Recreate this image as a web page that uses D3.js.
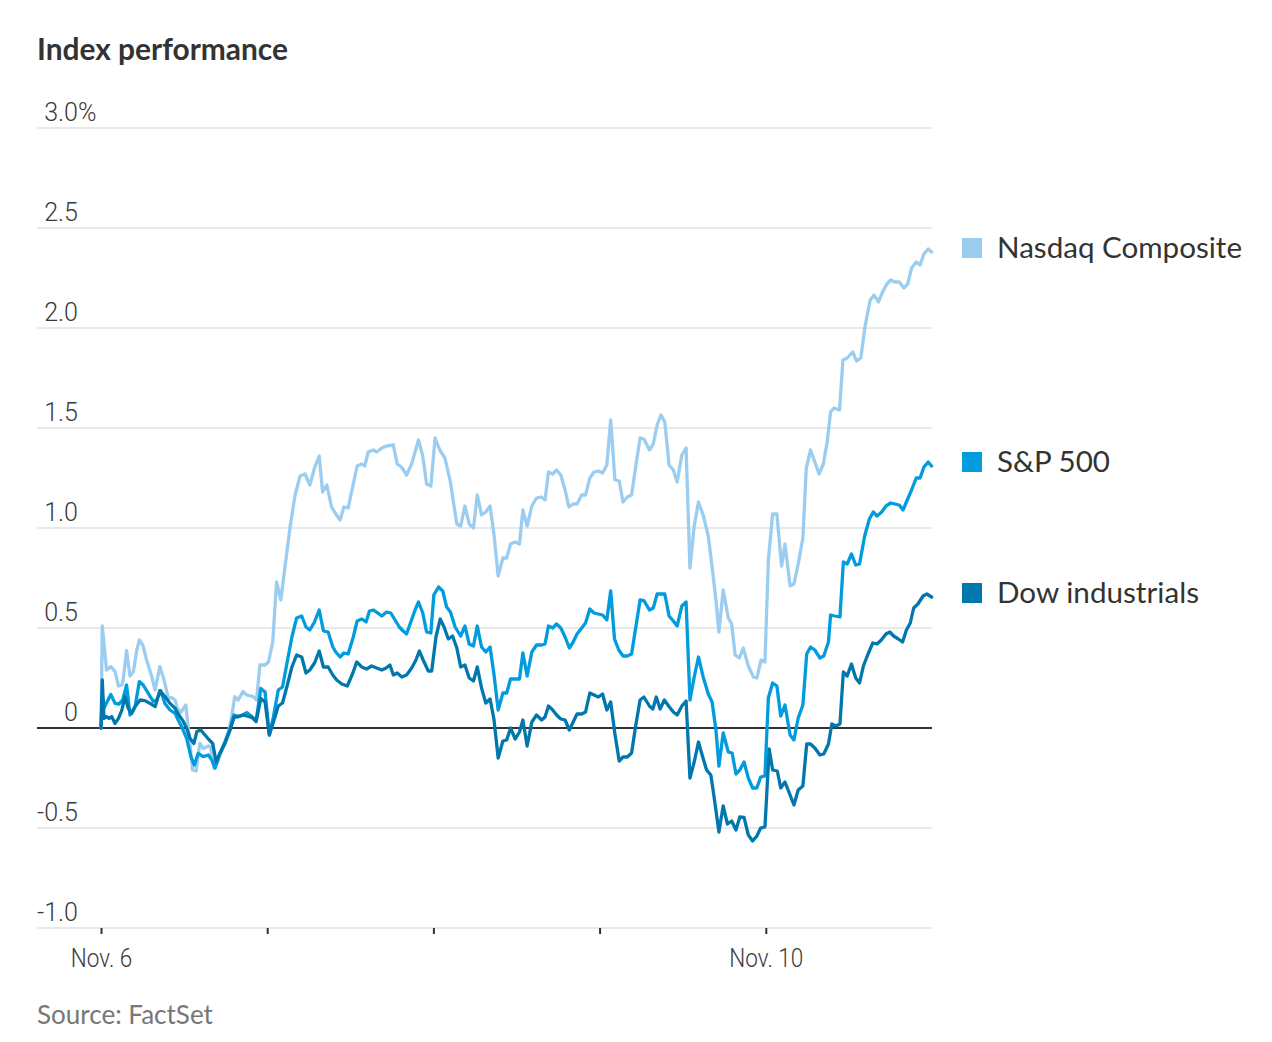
<!DOCTYPE html>
<html><head><meta charset="utf-8">
<script src="https://cdn.jsdelivr.net/npm/d3@7"></script>
<style>
html,body{margin:0;padding:0;background:#fff;}
svg{display:block;}
</style></head>
<body>
<svg id="chart" width="1272" height="1042"></svg>
<script>
// ---- Data (time = trading minutes since Nov. 6 open, 390 per session; value = % change) ----
const seriesNames = ["Nasdaq Composite", "S&P 500", "Dow industrials"];
const seriesColors = ["#9bcdf0", "#009cde", "#0077ad"];

const nasdaq = [[0,0],[3,0.51],[13,0.29],[23,0.307],[33,0.282],[41,0.21],[49,0.215],[52,0.24],[60,0.387],[68,0.26],[76,0.282],[84,0.39],[90,0.44],[98,0.415],[107,0.34],[119,0.257],[127,0.19],[138,0.307],[148,0.24],[158,0.148],[166,0.152],[174,0.14],[179,0.098],[187,0.077],[199,0.115],[215,-0.21],[223,-0.215],[232,-0.077],[240,-0.102],[252,-0.09],[257,-0.093],[265,-0.202],[275,-0.16],[287,-0.093],[299,-0.027],[307,0.065],[314,0.157],[322,0.14],[333,0.182],[342,0.165],[357,0.157],[365,0.14],[373,0.315],[385,0.315],[393,0.33],[403,0.43],[412,0.73],[422,0.64],[432,0.81],[444,1.01],[455,1.16],[467,1.26],[479,1.27],[490,1.215],[501,1.30],[512,1.36],[520,1.18],[530,1.215],[541,1.105],[551,1.07],[561,1.04],[570,1.105],[580,1.10],[591,1.21],[601,1.31],[612,1.32],[619,1.31],[627,1.38],[639,1.39],[647,1.38],[659,1.40],[670,1.41],[686,1.415],[695,1.32],[705,1.305],[717,1.265],[729,1.32],[745,1.44],[755,1.36],[764,1.22],[774,1.21],[784,1.45],[795,1.39],[807,1.35],[819,1.24],[827,1.13],[835,1.02],[844,1.01],[854,1.11],[864,1.02],[874,1.00],[883,1.165],[893,1.065],[903,1.08],[913,1.11],[922,0.97],[932,0.76],[943,0.85],[952,0.85],[961,0.92],[972,0.93],[982,0.92],[990,1.09],[1000,1.01],[1011,1.11],[1022,1.15],[1033,1.155],[1042,1.14],[1050,1.28],[1060,1.27],[1069,1.29],[1079,1.265],[1089,1.19],[1098,1.105],[1108,1.12],[1117,1.12],[1128,1.165],[1137,1.165],[1147,1.25],[1157,1.28],[1167,1.285],[1177,1.275],[1187,1.315],[1196,1.54],[1206,1.24],[1216,1.235],[1225,1.13],[1235,1.155],[1245,1.165],[1255,1.31],[1265,1.45],[1274,1.445],[1287,1.39],[1296,1.42],[1305,1.515],[1314,1.565],[1323,1.53],[1333,1.315],[1343,1.29],[1352,1.23],[1363,1.365],[1373,1.40],[1382,0.80],[1392,1.01],[1402,1.13],[1413,1.065],[1425,0.96],[1436,0.77],[1444,0.62],[1450,0.48],[1460,0.69],[1472,0.55],[1480,0.52],[1488,0.365],[1498,0.35],[1507,0.40],[1519,0.31],[1531,0.255],[1539,0.25],[1549,0.34],[1558,0.33],[1566,0.84],[1576,1.07],[1586,1.07],[1597,0.81],[1605,0.92],[1617,0.71],[1626,0.72],[1636,0.82],[1647,0.95],[1655,1.30],[1665,1.39],[1675,1.33],[1685,1.27],[1695,1.32],[1704,1.43],[1712,1.58],[1720,1.60],[1733,1.59],[1741,1.84],[1751,1.85],[1764,1.88],[1773,1.835],[1783,1.85],[1793,2.01],[1805,2.14],[1814,2.165],[1824,2.13],[1834,2.18],[1844,2.22],[1853,2.24],[1863,2.23],[1873,2.23],[1884,2.20],[1893,2.22],[1902,2.30],[1913,2.33],[1922,2.315],[1931,2.37],[1941,2.395],[1949,2.38]];

const sp500 = [[0,0],[3,0.16],[7,0.10],[23,0.168],[33,0.123],[42,0.12],[51,0.14],[60,0.215],[68,0.065],[80,0.107],[90,0.232],[99,0.215],[111,0.173],[123,0.132],[131,0.14],[140,0.187],[150,0.123],[162,0.09],[174,0.073],[181,0.04],[189,0.007],[201,-0.052],[211,-0.143],[219,-0.185],[228,-0.127],[240,-0.143],[252,-0.135],[260,-0.16],[268,-0.2],[279,-0.127],[291,-0.068],[303,-0.002],[312,0.065],[322,0.057],[333,0.065],[342,0.077],[354,0.057],[364,0.037],[375,0.198],[385,0.18],[395,-0.035],[404,0.05],[416,0.19],[426,0.205],[436,0.32],[448,0.455],[459,0.55],[471,0.56],[481,0.505],[490,0.49],[501,0.53],[512,0.59],[522,0.485],[533,0.48],[544,0.405],[551,0.38],[561,0.355],[570,0.375],[580,0.37],[592,0.455],[601,0.535],[612,0.545],[622,0.53],[630,0.585],[639,0.59],[648,0.577],[659,0.56],[670,0.58],[680,0.575],[690,0.54],[700,0.505],[709,0.485],[717,0.47],[727,0.53],[737,0.59],[745,0.63],[755,0.575],[764,0.48],[774,0.475],[781,0.665],[792,0.705],[802,0.685],[811,0.605],[820,0.58],[831,0.505],[844,0.46],[854,0.51],[864,0.42],[874,0.41],[883,0.51],[893,0.405],[903,0.38],[913,0.405],[922,0.27],[932,0.09],[943,0.175],[952,0.175],[961,0.245],[972,0.245],[982,0.245],[990,0.375],[1000,0.26],[1011,0.38],[1022,0.415],[1034,0.415],[1042,0.42],[1050,0.51],[1060,0.50],[1069,0.52],[1079,0.50],[1089,0.455],[1099,0.40],[1108,0.43],[1117,0.47],[1128,0.50],[1137,0.525],[1147,0.595],[1157,0.575],[1167,0.57],[1177,0.565],[1187,0.54],[1196,0.685],[1205,0.445],[1215,0.39],[1225,0.36],[1235,0.36],[1245,0.37],[1255,0.505],[1265,0.64],[1274,0.637],[1287,0.59],[1296,0.60],[1305,0.67],[1314,0.67],[1323,0.67],[1333,0.56],[1343,0.535],[1352,0.51],[1363,0.61],[1373,0.63],[1382,0.14],[1392,0.255],[1402,0.355],[1413,0.255],[1425,0.17],[1434,0.13],[1443,-0.01],[1450,-0.19],[1460,-0.025],[1472,-0.12],[1481,-0.125],[1490,-0.23],[1499,-0.21],[1509,-0.17],[1519,-0.25],[1529,-0.30],[1539,-0.30],[1548,-0.245],[1558,-0.24],[1566,0.15],[1576,0.225],[1586,0.21],[1595,0.06],[1605,0.115],[1617,-0.035],[1626,-0.06],[1636,0.05],[1647,0.115],[1656,0.37],[1665,0.405],[1675,0.39],[1687,0.35],[1696,0.36],[1707,0.43],[1712,0.565],[1722,0.56],[1734,0.555],[1742,0.83],[1751,0.82],[1761,0.87],[1771,0.815],[1780,0.82],[1792,0.96],[1803,1.045],[1812,1.08],[1821,1.06],[1832,1.08],[1842,1.11],[1853,1.125],[1863,1.12],[1873,1.115],[1882,1.09],[1892,1.14],[1902,1.19],[1913,1.25],[1922,1.25],[1931,1.305],[1941,1.33],[1949,1.31]];

const dow = [[0,0],[3,0.24],[7,0.048],[13,0.057],[19,0.048],[25,0.057],[33,0.023],[41,0.048],[49,0.09],[56,0.157],[64,0.098],[72,0.073],[80,0.107],[92,0.14],[103,0.137],[115,0.123],[127,0.107],[138,0.187],[150,0.157],[162,0.123],[174,0.098],[181,0.07],[192,0.037],[201,-0.002],[209,-0.052],[218,-0.077],[225,-0.018],[234,-0.01],[244,-0.035],[254,-0.06],[262,-0.077],[270,-0.168],[279,-0.127],[291,-0.077],[303,-0.01],[312,0.053],[322,0.057],[333,0.065],[342,0.06],[354,0.053],[364,0.032],[375,0.148],[385,0.13],[395,-0.035],[406,0.04],[416,0.11],[426,0.125],[436,0.205],[448,0.305],[459,0.365],[471,0.355],[481,0.275],[490,0.29],[501,0.325],[512,0.385],[522,0.305],[533,0.305],[544,0.265],[553,0.24],[565,0.22],[578,0.21],[591,0.275],[600,0.33],[612,0.305],[623,0.295],[635,0.31],[647,0.30],[659,0.29],[669,0.30],[678,0.315],[686,0.265],[695,0.275],[706,0.255],[717,0.265],[729,0.30],[739,0.34],[747,0.385],[756,0.34],[768,0.285],[776,0.285],[786,0.455],[796,0.545],[805,0.505],[815,0.445],[825,0.46],[835,0.40],[844,0.305],[854,0.315],[864,0.25],[874,0.235],[883,0.305],[893,0.20],[903,0.125],[913,0.145],[922,0.045],[932,-0.15],[943,-0.065],[952,-0.06],[961,0.0],[972,-0.055],[982,-0.02],[990,0.04],[1000,-0.09],[1011,0.03],[1022,0.065],[1034,0.04],[1042,0.055],[1050,0.11],[1060,0.09],[1069,0.065],[1079,0.045],[1089,0.04],[1099,-0.01],[1108,0.03],[1117,0.07],[1128,0.07],[1137,0.08],[1147,0.175],[1157,0.165],[1167,0.155],[1177,0.17],[1187,0.09],[1196,0.13],[1206,-0.03],[1216,-0.165],[1225,-0.145],[1235,-0.145],[1245,-0.125],[1255,0.015],[1265,0.14],[1274,0.155],[1287,0.11],[1295,0.095],[1303,0.155],[1312,0.095],[1322,0.14],[1332,0.11],[1343,0.08],[1352,0.065],[1363,0.11],[1373,0.135],[1382,-0.25],[1392,-0.17],[1402,-0.07],[1412,-0.145],[1421,-0.21],[1431,-0.235],[1438,-0.335],[1450,-0.52],[1460,-0.39],[1470,-0.48],[1480,-0.465],[1490,-0.51],[1499,-0.445],[1509,-0.447],[1519,-0.535],[1529,-0.565],[1539,-0.54],[1548,-0.50],[1558,-0.495],[1568,-0.105],[1576,-0.21],[1587,-0.215],[1595,-0.30],[1605,-0.27],[1617,-0.335],[1626,-0.385],[1636,-0.31],[1647,-0.29],[1656,-0.08],[1665,-0.08],[1675,-0.10],[1687,-0.135],[1696,-0.13],[1707,-0.08],[1715,0.02],[1725,0.01],[1734,0.02],[1742,0.28],[1751,0.26],[1761,0.32],[1771,0.25],[1780,0.225],[1789,0.31],[1799,0.365],[1811,0.425],[1821,0.42],[1831,0.44],[1842,0.47],[1851,0.48],[1860,0.46],[1871,0.445],[1881,0.43],[1890,0.49],[1899,0.525],[1907,0.60],[1917,0.62],[1929,0.66],[1938,0.67],[1949,0.655]];

const yTicks = [-1, -0.5, 0, 0.5, 1, 1.5, 2, 2.5, 3];
const yTickLabels = ["-1.0", "-0.5", "0", "0.5", "1.0", "1.5", "2.0", "2.5", "3.0"];
const xTicks = [0, 390, 780, 1170, 1560];
const xTickLabels = ["Nov. 6", "", "", "", "Nov. 10"];

// ---- Drawing ----
const svg = d3.select("#chart");
const x = d3.scaleLinear().domain([0, 1950]).range([101, 932]);
const y = d3.scaleLinear().domain([-1, 3]).range([928, 128]);
const gridLeft = 37, gridRight = 932;

const tickFont = "'Roboto','Liberation Sans',sans-serif";
const body = "'Lato','Noto Sans','Open Sans',sans-serif";

function fitWidth(sel, w) {
  const n = sel.node();
  const cur = n.getComputedTextLength();
  const fs = parseFloat(sel.attr("font-size"));
  if (cur > 0) sel.attr("font-size", (fs * w / cur).toFixed(2));
}

// title
const title = svg.append("text").attr("x", 37).attr("y", 60)
  .attr("font-family", body).attr("font-weight", 700).attr("font-size", 28)
  .attr("fill", "#333").text("Index performance");
fitWidth(title, 251);

// gridlines
svg.append("g").selectAll("line").data(yTicks.filter(d => d !== 0)).join("line")
  .attr("x1", gridLeft).attr("x2", gridRight)
  .attr("y1", d => y(d)).attr("y2", d => y(d))
  .attr("stroke", "#e2e2e2").attr("stroke-width", 1.6);

// y labels (condensed via horizontal scale)
const yFs = 25;
const yl = svg.append("g");
const yText = yl.selectAll("text").data(yTicks).join("text")
  .attr("text-anchor", "end")
  .attr("font-family", tickFont).attr("font-weight", 300).attr("font-size", yFs).attr("fill", "#3a3a3a")
  .text((d, i) => yTickLabels[i]);
const wRef = yText.filter(d => d === -1).node().getComputedTextLength();
const ySx = 41 / wRef;
yText.attr("transform", d => `translate(78,${y(d) - 7}) scale(${ySx},1)`);
yl.append("text").attr("transform", `translate(78,${y(3) - 7}) scale(${ySx},1)`)
  .attr("font-family", tickFont).attr("font-weight", 300).attr("font-size", yFs).attr("fill", "#3a3a3a").text("%");

// x axis ticks
const xa = svg.append("g").attr("transform", `translate(0,${y(-1)})`)
  .call(d3.axisBottom(x).tickValues(xTicks).tickSize(6).tickFormat((d, i) => xTickLabels[i]));
xa.select(".domain").remove();
xa.selectAll(".tick line").attr("stroke", "#333").attr("stroke-width", 2);
const xText = xa.selectAll(".tick text").attr("y", null).attr("dy", null)
  .attr("font-family", tickFont).attr("font-weight", 300).attr("font-size", 25).attr("fill", "#3a3a3a")
  .attr("text-anchor", "middle");
const xRefNode = xText.filter(function() { return this.textContent === "Nov. 10"; }).node();
const xSx = 74 / xRefNode.getComputedTextLength();
xText.attr("transform", `translate(0,39) scale(${xSx},1)`);

// zero line
svg.append("line").attr("x1", gridLeft).attr("x2", gridRight)
  .attr("y1", y(0)).attr("y2", y(0)).attr("stroke", "#333").attr("stroke-width", 2);

// lines
const line = d3.line().x(d => x(d[0])).y(d => y(d[1])).curve(d3.curveLinear);
const allSeries = [nasdaq, sp500, dow];
svg.append("g").selectAll("path").data(allSeries).join("path")
  .attr("d", d => line(d))
  .attr("fill", "none")
  .attr("stroke", (d, i) => seriesColors[i])
  .attr("stroke-width", 3.3)
  .attr("stroke-linejoin", "round")
  .attr("stroke-linecap", "round");

// legend aligned with last values
const legendW = [245, 113, 202];
const lg = svg.append("g");
allSeries.forEach((s, i) => {
  const yy = y(s[s.length - 1][1]) - 4;
  lg.append("rect").attr("x", 962).attr("y", yy - 10).attr("width", 20).attr("height", 20)
    .attr("fill", seriesColors[i]);
  const t = lg.append("text").attr("x", 997).attr("y", yy + 10)
    .attr("font-family", body).attr("font-size", 28).attr("fill", "#333")
    .text(seriesNames[i]);
  fitWidth(t, legendW[i]);
});

// source
const src = svg.append("text").attr("x", 37).attr("y", 1024)
  .attr("font-family", body).attr("font-size", 24).attr("fill", "#777")
  .text("Source: FactSet");
fitWidth(src, 176);
</script>
</body></html>
